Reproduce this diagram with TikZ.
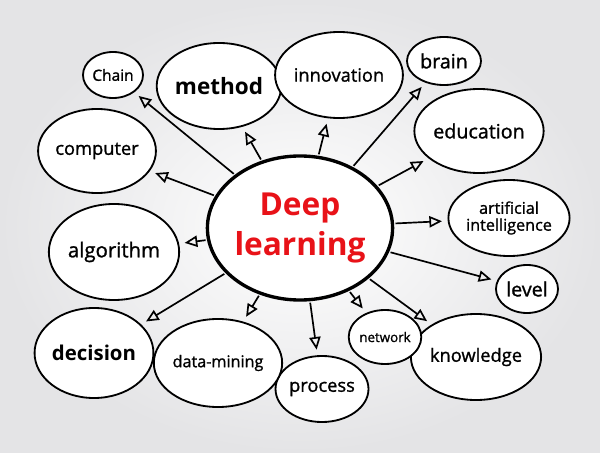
\documentclass[tikz,border=0pt]{standalone}
\usepackage{fontspec}
\setmainfont{Open Sans}
\newfontfamily\markerfont{Open Sans}[FakeBold=1.2]
\usetikzlibrary{arrows.meta, shapes.geometric, positioning}
\definecolor{mindred}{RGB}{232,18,24}
\definecolor{paper}{RGB}{228,228,230}

\begin{document}
\begin{tikzpicture}[
    x=0.025cm, y=-0.025cm,
    bubble/.style={draw=black, ellipse, line width=1.3pt, fill=white, inner sep=0pt, align=center},
    core/.style={draw=black, ellipse, line width=2.4pt, fill=white, inner sep=0pt, align=center, text=mindred, font=\fontsize{22.5}{28}\selectfont\bfseries},
    arrow/.style={-{Triangle[open, length=9pt, width=8pt]}, line width=1.2pt, draw=black, shorten <=1pt, shorten >=4pt}
]

    % Background, white in the middle
    \shade[inner color=white, outer color=paper] (0,0) rectangle (600,453);

    % Central topic
    \node[core, minimum width=4.6cm, minimum height=3.6cm] (dl) at (300,228) {Deep\\learning};

    % Topics around it, clockwise from top left
    \node[bubble, minimum width=1.5cm, minimum height=1.15cm, font=\markerfont\fontsize{11}{13}\selectfont] (chain) at (113,75) {Chain};
    \node[bubble, minimum width=2.7cm, minimum height=2.15cm, font=\fontsize{16}{18}\selectfont\bfseries] (method) at (219,86) {method};
    \node[bubble, minimum width=2.8cm, minimum height=2.15cm, font=\markerfont\fontsize{13}{15}\selectfont] (innovation) at (339,75) {innovation};
    \node[bubble, minimum width=1.85cm, minimum height=1.2cm, font=\markerfont\fontsize{14}{16}\selectfont] (brain) at (444,61) {brain};
    \node[bubble, minimum width=2.9cm, minimum height=2.1cm, font=\markerfont\fontsize{14}{16}\selectfont] (education) at (479,131) {education};
    \node[bubble, minimum width=2.7cm, minimum height=1.9cm, font=\markerfont\fontsize{11.5}{12}\selectfont] (ai) at (509,218) {artificial\\intelligence};
    \node[bubble, minimum width=1.55cm, minimum height=1.2cm, font=\markerfont\fontsize{14}{16}\selectfont] (level) at (527,289) {level};
    \node[bubble, minimum width=2.75cm, minimum height=2.15cm, font=\markerfont\fontsize{13}{15}\selectfont] (knowledge) at (476,357) {knowledge};
    \node[bubble, minimum width=1.65cm, minimum height=1.35cm, font=\markerfont\fontsize{9.5}{11}\selectfont] (network) at (385,337) {network};
    \node[bubble, minimum width=2.15cm, minimum height=1.65cm, font=\markerfont\fontsize{13}{15}\selectfont] (process) at (322,389) {process};
    \node[bubble, minimum width=2.8cm, minimum height=2.2cm, font=\markerfont\fontsize{11.5}{13}\selectfont] (mining) at (218,363) {data-mining};
    \node[bubble, minimum width=2.85cm, minimum height=2.25cm, font=\fontsize{14.5}{17}\selectfont\bfseries] (decision) at (94,353) {decision};
    \node[bubble, minimum width=3.05cm, minimum height=2.4cm, font=\markerfont\fontsize{14.5}{16}\selectfont] (algorithm) at (114,252) {algorithm};
    \node[bubble, minimum width=2.65cm, minimum height=2.1cm, font=\markerfont\fontsize{13}{15}\selectfont] (computer) at (97,151) {computer};

    % Arrows from the centre out to every topic
    \foreach \target in {chain, method, innovation, brain, education, ai, level, knowledge, network, process, mining, decision, algorithm, computer} {
      \draw[arrow] (dl) -- (\target);
    }

\end{tikzpicture}
\end{document}
